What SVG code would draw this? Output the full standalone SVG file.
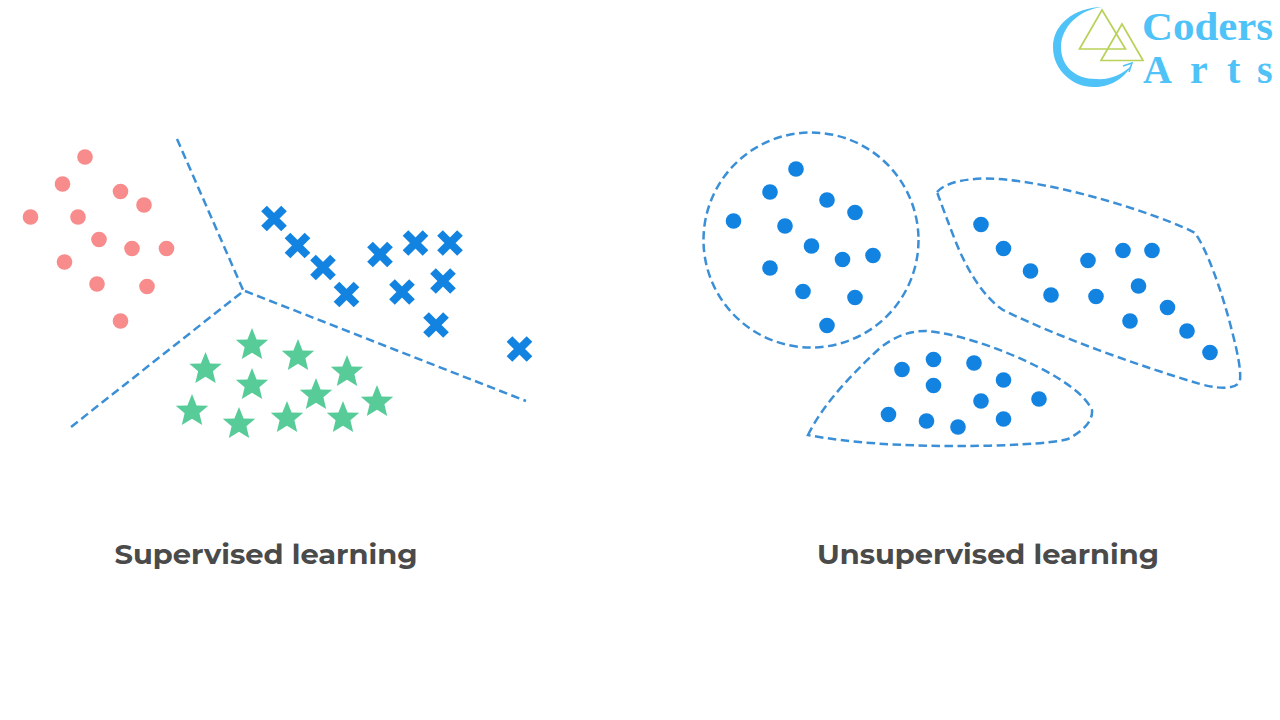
<svg xmlns="http://www.w3.org/2000/svg" width="1280" height="720" viewBox="0 0 1280 720">
<style>
.d{fill:none;stroke:#3b8fd6;stroke-width:2.500;stroke-dasharray:8.500 4.500;stroke-linecap:butt}
.label{font-family:Montserrat,"Open Sans","Noto Sans",sans-serif;font-weight:700;font-size:27px;fill:#4a4a4a}
.logo{font-family:"Liberation Serif",serif;font-weight:700;fill:#4fc3f7}
.tri{fill:none;stroke:#b9d25a;stroke-width:1.700}
</style>
<defs>
<circle id="r" r="7.800" fill="#f88b8b"/>
<circle id="b" r="7.800" fill="#1283e0"/>
<path id="x" d="M-10-10L10 10M-10 10L10-10" stroke="#1283e0" stroke-width="8" fill="none"/>
<polygon id="s" points="0,-17 4.600,-5.500 16.200,-5.300 7.400,2.300 10.200,14 0,7.800 -10.200,14 -7.400,2.300 -16.200,-5.300 -4.600,-5.500" fill="#57cc99"/>
</defs>
<rect width="1280" height="720" fill="#fff"/>
<g id="connectors">
<path class="d" d="M177 139L243.500 291L71 427"/>
<path class="d" d="M245 291L526 401"/>
<circle class="d" cx="811" cy="240" r="107.500"/>
<path class="d" d="M937 192C944 184 960 179 985 178.500C1030 179 1100 196 1160 218C1178 225 1188 229 1195 233C1206 248 1222 290 1233 335C1238 355 1241 370 1240 380C1238 389 1222 390 1200 384C1140 366 1060 338 1003 310C985 298 968 273 955 240C948 222 942 206 937 192Z"/>
<path class="d" d="M808 435C820 410 845 380 880 348C895 336 910 331 925 331C950 332 1000 347 1040 368C1065 381 1085 395 1092 410C1093 420 1085 430 1068 439C1050 444 1000 446 960 446C900 446 850 443 808 435Z"/>
</g>
<g id="supervised-red">
<use href="#r" x="85" y="157"/><use href="#r" x="62.500" y="184"/><use href="#r" x="120.500" y="191.500"/><use href="#r" x="144" y="205"/><use href="#r" x="30.500" y="217"/><use href="#r" x="78" y="217"/><use href="#r" x="99" y="239.500"/><use href="#r" x="132" y="248.500"/><use href="#r" x="166.500" y="248.500"/><use href="#r" x="64.500" y="262"/><use href="#r" x="97" y="284"/><use href="#r" x="147" y="286.500"/><use href="#r" x="120.500" y="321"/>
</g>
<g id="supervised-cross">
<use href="#x" x="274" y="218.500"/><use href="#x" x="297.500" y="245.500"/><use href="#x" x="323" y="267.500"/><use href="#x" x="346.500" y="294.500"/><use href="#x" x="380" y="254.500"/><use href="#x" x="415.500" y="243"/><use href="#x" x="450" y="243"/><use href="#x" x="443" y="281"/><use href="#x" x="402" y="292"/><use href="#x" x="436" y="325"/><use href="#x" x="519.500" y="349"/>
</g>
<g id="supervised-star">
<use href="#s" x="252" y="345"/><use href="#s" x="298" y="356"/><use href="#s" x="205.500" y="369"/><use href="#s" x="347" y="372"/><use href="#s" x="252" y="385"/><use href="#s" x="316" y="395"/><use href="#s" x="377" y="402"/><use href="#s" x="192" y="411"/><use href="#s" x="287" y="418"/><use href="#s" x="343" y="418"/><use href="#s" x="239" y="424"/>
</g>
<g id="cluster-1">
<use href="#b" x="796" y="169"/><use href="#b" x="770" y="192"/><use href="#b" x="827" y="200"/><use href="#b" x="855" y="212.500"/><use href="#b" x="733.500" y="221"/><use href="#b" x="785" y="226"/><use href="#b" x="811.500" y="246"/><use href="#b" x="842.500" y="259.500"/><use href="#b" x="873" y="255.500"/><use href="#b" x="770" y="268"/><use href="#b" x="803" y="291.500"/><use href="#b" x="855" y="297.500"/><use href="#b" x="827" y="325.500"/>
</g>
<g id="cluster-2">
<use href="#b" x="981" y="224.500"/><use href="#b" x="1003.500" y="248.500"/><use href="#b" x="1030.500" y="271"/><use href="#b" x="1051" y="295"/><use href="#b" x="1088" y="260.500"/><use href="#b" x="1123" y="250.500"/><use href="#b" x="1152" y="250.500"/><use href="#b" x="1138.500" y="286"/><use href="#b" x="1096" y="296.500"/><use href="#b" x="1167.500" y="307.500"/><use href="#b" x="1130" y="321"/><use href="#b" x="1187" y="331"/><use href="#b" x="1210" y="352.500"/>
</g>
<g id="cluster-3">
<use href="#b" x="902" y="369.500"/><use href="#b" x="933.500" y="359.500"/><use href="#b" x="974" y="363"/><use href="#b" x="933.500" y="385.500"/><use href="#b" x="1003.500" y="380"/><use href="#b" x="1039" y="399"/><use href="#b" x="981" y="401"/><use href="#b" x="888.500" y="414.500"/><use href="#b" x="926.500" y="421"/><use href="#b" x="958" y="427"/><use href="#b" x="1003.500" y="419"/>
</g>
<g id="labels">
<text class="label" x="266" y="564" text-anchor="middle" textLength="303" lengthAdjust="spacingAndGlyphs">Supervised learning</text>
<text class="label" x="988" y="564" text-anchor="middle" textLength="342" lengthAdjust="spacingAndGlyphs">Unsupervised learning</text>
</g>
<g id="logo">
<path d="M1102 7C1073 8 1053 25 1053 47C1053 72 1075 88 1095 87C1112 87 1125 77 1132 65C1122 75 1110 80 1096 79C1075 79 1061 66 1061 47C1061 28 1078 10 1102 7Z" fill="#4fc3f7"/>
<path d="M1123 66L1132 63L1129 72" fill="none" stroke="#4fc3f7" stroke-width="1.500"/>
<polygon class="tri" points="1102,10 1079.500,49 1125.500,49"/>
<polygon class="tri" points="1122,24 1101,60.500 1143,60.500"/>
<text class="logo" x="1142" y="40" font-size="40" textLength="131" lengthAdjust="spacingAndGlyphs">Coders</text>
<text class="logo" x="1143 1190 1227 1257" y="83" font-size="40">Arts</text>
</g>
</svg>
